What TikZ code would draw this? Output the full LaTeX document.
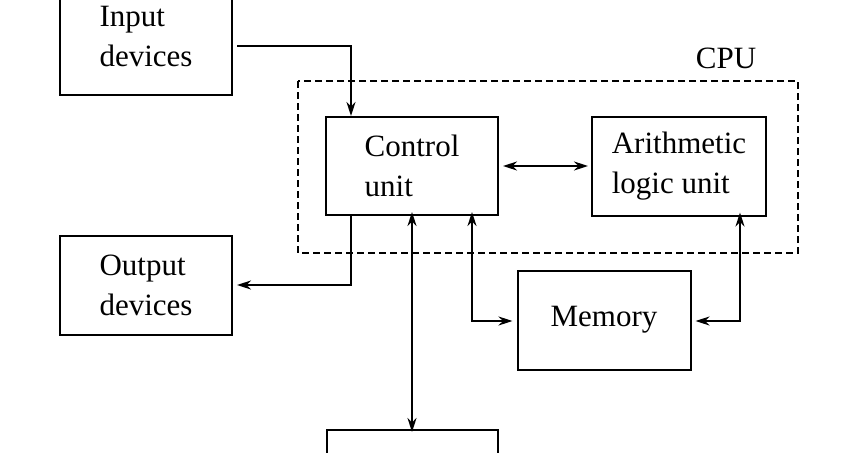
\documentclass[tikz,border=0pt]{standalone}
\usepackage{fontspec}
\setmainfont{Liberation Serif}
\usetikzlibrary{arrows.meta}
\begin{document}
\begin{tikzpicture}[x=1pt,y=-1pt,
  box/.style={draw,line width=2pt,align=left,font=\fontsize{31}{40}\selectfont,inner sep=0pt},
  ar/.style={line width=2pt,-{Stealth[length=14pt,width=9pt]}},
  dar/.style={line width=2pt,{Stealth[length=14pt,width=9pt]}-{Stealth[length=14pt,width=9pt]}}]
\useasboundingbox (0,0) rectangle (861,452);
\clip (0,0) rectangle (861,452);
\draw[line width=1.5pt,dash pattern=on 7pt off 4pt] (298,81) rectangle (798,253);
\node[font=\fontsize{31}{36}\selectfont] (cpu) at (726,58) {CPU};
\node[box,minimum width=172pt,minimum height=115pt] (in) at (146,37) {Input\\devices};
\node[box,minimum width=172pt,minimum height=99pt] (out) at (146,285) {Output\\devices};
\node[box,minimum width=172pt,minimum height=98pt] (cu) at (412,166) {Control\\unit};
\node[box,minimum width=174pt,minimum height=99pt] (alu) at (679,166) {Arithmetic\\logic unit};
\node[box,minimum width=173pt,minimum height=99pt] (mem) at (604,320) {Memory};
\node[box,minimum width=171pt,minimum height=60pt] (bot) at (412,460) {};
\coordinate (c1) at (351,46);
\draw[ar] (in.east|-c1) ++(4,0) -- (c1) -- (c1|-cu.north);
\coordinate (c2) at (351,285);
\draw[ar] (c2|-cu.south) -- (c2) -- ([xshift=4pt]out.east|-c2);
\draw[dar] ([xshift=4pt]cu.east) -- ([xshift=-3pt]alu.west);
\coordinate (c3) at (472,321);
\draw[dar] ([yshift=4pt]c3|-cu.south) -- (c3) -- ([xshift=-4pt]mem.west|-c3);
\coordinate (c4) at (740,321);
\draw[dar] ([xshift=4pt]mem.east|-c4) -- (c4) -- ([yshift=4pt]c4|-alu.south);
\draw[dar] ([yshift=4pt]cu.south) -- ([yshift=-3pt]bot.north);
\end{tikzpicture}
\end{document}
